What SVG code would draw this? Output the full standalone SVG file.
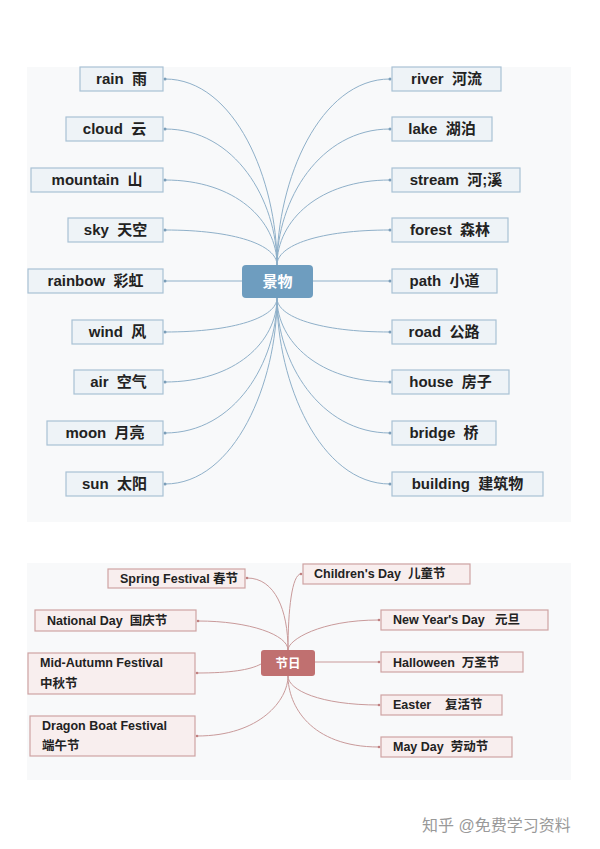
<svg xmlns="http://www.w3.org/2000/svg" width="600" height="849" viewBox="0 0 600 849">
<style>
text{font-family:"Liberation Sans","Noto Sans CJK SC",sans-serif;font-weight:bold;fill:#222;white-space:pre}
.t{font-size:15px}
.b{font-size:12.5px}
.bn rect{fill:#eef3f7;stroke:#a9c1d4;stroke-width:1.2}
.rn rect{fill:#f8eeee;stroke:#cfa3a3;stroke-width:1.2}
#conn1 path{fill:none;stroke:#8fb0c9;stroke-width:1}
#conn2 path{fill:none;stroke:#c99a9a;stroke-width:1}
#conn1 circle{fill:#7a9db8}
#conn2 circle{fill:#c08080}
</style>
<rect width="600" height="849" fill="#fff"/>
<rect x="27" y="67" width="544" height="455" fill="#f8f9fa"/>
<rect x="27" y="563" width="544" height="217" fill="#f8f9fa"/>
<g id="conn1">
<path d="M165,79 C235,79 277,180 277,265"/>
<path d="M165,129 C235,129 277,200 277,265"/>
<path d="M165,180 C235,180 277,220 277,265"/>
<path d="M165,230 C235,230 277,245 277,265"/>
<path d="M165,281 H242"/>
<path d="M165,332 C235,332 277,317 277,298"/>
<path d="M165,382 C235,382 277,342 277,298"/>
<path d="M165,433 C235,433 277,362 277,298"/>
<path d="M165,484 C235,484 277,382 277,298"/>
<path d="M390,79 C320,79 277,180 277,265"/>
<path d="M390,129 C320,129 277,200 277,265"/>
<path d="M390,180 C320,180 277,220 277,265"/>
<path d="M390,230 C320,230 277,245 277,265"/>
<path d="M313,281 H390"/>
<path d="M390,332 C320,332 277,317 277,298"/>
<path d="M390,382 C320,382 277,342 277,298"/>
<path d="M390,433 C320,433 277,362 277,298"/>
<path d="M390,484 C320,484 277,382 277,298"/>
<circle cx="165" cy="79" r="1.5"/><circle cx="165" cy="129" r="1.5"/><circle cx="165" cy="180" r="1.5"/><circle cx="165" cy="230" r="1.5"/><circle cx="165" cy="281" r="1.5"/><circle cx="165" cy="332" r="1.5"/><circle cx="165" cy="382" r="1.5"/><circle cx="165" cy="433" r="1.5"/><circle cx="165" cy="484" r="1.5"/>
<circle cx="390" cy="79" r="1.5"/><circle cx="390" cy="129" r="1.5"/><circle cx="390" cy="180" r="1.5"/><circle cx="390" cy="230" r="1.5"/><circle cx="390" cy="281" r="1.5"/><circle cx="390" cy="332" r="1.5"/><circle cx="390" cy="382" r="1.5"/><circle cx="390" cy="433" r="1.5"/><circle cx="390" cy="484" r="1.5"/>
</g>
<g id="center1"><rect x="242" y="265" width="71" height="33" rx="4" fill="#6e9dbf"/><text x="277.5" y="287" text-anchor="middle" class="t" style="fill:#fff">景物</text></g>
<g class="bn" id="n-rain"><rect x="80" y="67" width="83" height="24"/><text x="121.5" y="84" text-anchor="middle" class="t">rain  雨</text></g>
<g class="bn" id="n-cloud"><rect x="66" y="117" width="97" height="24"/><text x="114.5" y="134" text-anchor="middle" class="t">cloud  云</text></g>
<g class="bn" id="n-mountain"><rect x="31" y="168" width="132" height="24"/><text x="97" y="185" text-anchor="middle" class="t">mountain  山</text></g>
<g class="bn" id="n-sky"><rect x="68" y="218" width="95" height="24"/><text x="115.5" y="235" text-anchor="middle" class="t">sky  天空</text></g>
<g class="bn" id="n-rainbow"><rect x="28" y="269" width="135" height="24"/><text x="95.5" y="286" text-anchor="middle" class="t">rainbow  彩虹</text></g>
<g class="bn" id="n-wind"><rect x="72" y="320" width="91" height="24"/><text x="117.5" y="337" text-anchor="middle" class="t">wind  风</text></g>
<g class="bn" id="n-air"><rect x="74" y="370" width="89" height="24"/><text x="118.5" y="387" text-anchor="middle" class="t">air  空气</text></g>
<g class="bn" id="n-moon"><rect x="47" y="421" width="116" height="24"/><text x="105" y="438" text-anchor="middle" class="t">moon  月亮</text></g>
<g class="bn" id="n-sun"><rect x="66" y="472" width="97" height="24"/><text x="114.5" y="489" text-anchor="middle" class="t">sun  太阳</text></g>
<g class="bn" id="n-river"><rect x="392" y="67" width="109" height="24"/><text x="446.5" y="84" text-anchor="middle" class="t">river  河流</text></g>
<g class="bn" id="n-lake"><rect x="392" y="117" width="100" height="24"/><text x="442" y="134" text-anchor="middle" class="t">lake  湖泊</text></g>
<g class="bn" id="n-stream"><rect x="392" y="168" width="128" height="24"/><text x="456" y="185" text-anchor="middle" class="t">stream  河;溪</text></g>
<g class="bn" id="n-forest"><rect x="392" y="218" width="116" height="24"/><text x="450" y="235" text-anchor="middle" class="t">forest  森林</text></g>
<g class="bn" id="n-path"><rect x="392" y="269" width="105" height="24"/><text x="444.5" y="286" text-anchor="middle" class="t">path  小道</text></g>
<g class="bn" id="n-road"><rect x="392" y="320" width="104" height="24"/><text x="444" y="337" text-anchor="middle" class="t">road  公路</text></g>
<g class="bn" id="n-house"><rect x="392" y="370" width="117" height="24"/><text x="450.5" y="387" text-anchor="middle" class="t">house  房子</text></g>
<g class="bn" id="n-bridge"><rect x="392" y="421" width="104" height="24"/><text x="444" y="438" text-anchor="middle" class="t">bridge  桥</text></g>
<g class="bn" id="n-building"><rect x="392" y="472" width="151" height="24"/><text x="467.5" y="489" text-anchor="middle" class="t">building  建筑物</text></g>

<g id="conn2">
<path d="M247,578 C275,578 288,610 288,650"/>
<path d="M301,574 C292,574 288,610 288,650"/>
<path d="M198,621 C250,621 288,635 288,650"/>
<path d="M379,620 C320,620 288,640 288,650"/>
<path d="M197,673 C230,673 250,670 261,664"/>
<path d="M315,662 H379"/>
<path d="M379,705 C320,705 288,690 288,676"/>
<path d="M197,736 C260,736 288,700 288,676"/>
<path d="M379,747 C310,747 288,705 288,676"/>
<circle cx="247" cy="578" r="1.3"/><circle cx="301" cy="574" r="1.3"/><circle cx="198" cy="621" r="1.3"/><circle cx="379" cy="620" r="1.3"/><circle cx="197" cy="673" r="1.3"/><circle cx="379" cy="662" r="1.3"/><circle cx="379" cy="705" r="1.3"/><circle cx="197" cy="736" r="1.3"/><circle cx="379" cy="747" r="1.3"/>
</g>
<g id="center2"><rect x="261" y="650" width="54" height="26" rx="3" fill="#c07070"/><text x="288" y="668" text-anchor="middle" class="b" style="fill:#fff">节日</text></g>
<g class="rn" id="n-spring"><rect x="108" y="569" width="137" height="19"/><text x="120" y="583" class="b">Spring Festival 春节</text></g>
<g class="rn" id="n-children"><rect x="303" y="564" width="167" height="20"/><text x="314" y="578" class="b">Children's Day  儿童节</text></g>
<g class="rn" id="n-national"><rect x="35" y="610" width="161" height="21"/><text x="47" y="625" class="b">National Day  国庆节</text></g>
<g class="rn" id="n-newyear"><rect x="381" y="610" width="167" height="20"/><text x="393" y="624" class="b">New Year's Day   元旦</text></g>
<g class="rn" id="n-midautumn"><rect x="28" y="653" width="167" height="41"/><text x="40" y="667" class="b">Mid-Autumn Festival</text><text x="40" y="688" class="b">中秋节</text></g>
<g class="rn" id="n-halloween"><rect x="381" y="652" width="142" height="20"/><text x="393" y="667" class="b">Halloween  万圣节</text></g>
<g class="rn" id="n-easter"><rect x="381" y="695" width="121" height="20"/><text x="393" y="709" class="b">Easter    复活节</text></g>
<g class="rn" id="n-dragon"><rect x="30" y="716" width="165" height="40"/><text x="42" y="730" class="b">Dragon Boat Festival</text><text x="42" y="750" class="b">端午节</text></g>
<g class="rn" id="n-mayday"><rect x="381" y="737" width="131" height="20"/><text x="393" y="751" class="b">May Day  劳动节</text></g>
<text x="422" y="831" style="font-size:16px;font-weight:normal;fill:#999">知乎 @免费学习资料</text>
</svg>
